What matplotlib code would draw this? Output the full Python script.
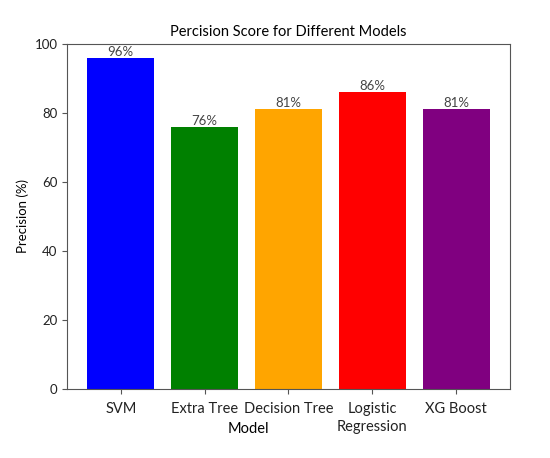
import matplotlib
matplotlib.use("Agg")
import matplotlib.pyplot as plt

plt.rcParams['font.family'] = ['Lato', 'DejaVu Sans']

models = ["SVM", "Extra Tree", "Decision Tree", "Logistic\nRegression", "XG Boost"]
precision = [96, 76, 81, 86, 81]
colors = ["blue", "green", "orange", "red", "purple"]

fig = plt.figure(figsize=(5.5, 4.58), dpi=100)
ax = fig.add_axes([0.122, 0.151, 0.805, 0.753])

bars = ax.bar(range(len(models)), precision, color=colors, width=0.8)
for b, v in zip(bars, precision):
    ax.text(b.get_x() + b.get_width() / 2, v, f"{v}%", ha="center", va="bottom",
            fontsize=9.5, color="#444444")

ax.set_xticks(range(len(models)))
ax.set_xticklabels(models, fontsize=10.5, linespacing=1.4)
ax.set_ylim(0, 100)
for s in ax.spines.values():
    s.set_color("#555555")
ax.tick_params(colors="#555555", labelcolor="#222222")
ax.tick_params(axis="x", pad=6)
ax.tick_params(axis="y", labelsize=9.5)
ax.set_ylabel("Precision (%)", fontsize=9.5)
ax.set_xlabel("Model", fontsize=10.5)
ax.xaxis.set_label_coords(0.41, -0.095)
ax.set_title("Percision Score for Different Models", fontsize=10.5)

fig.savefig("out.png", dpi=100)
